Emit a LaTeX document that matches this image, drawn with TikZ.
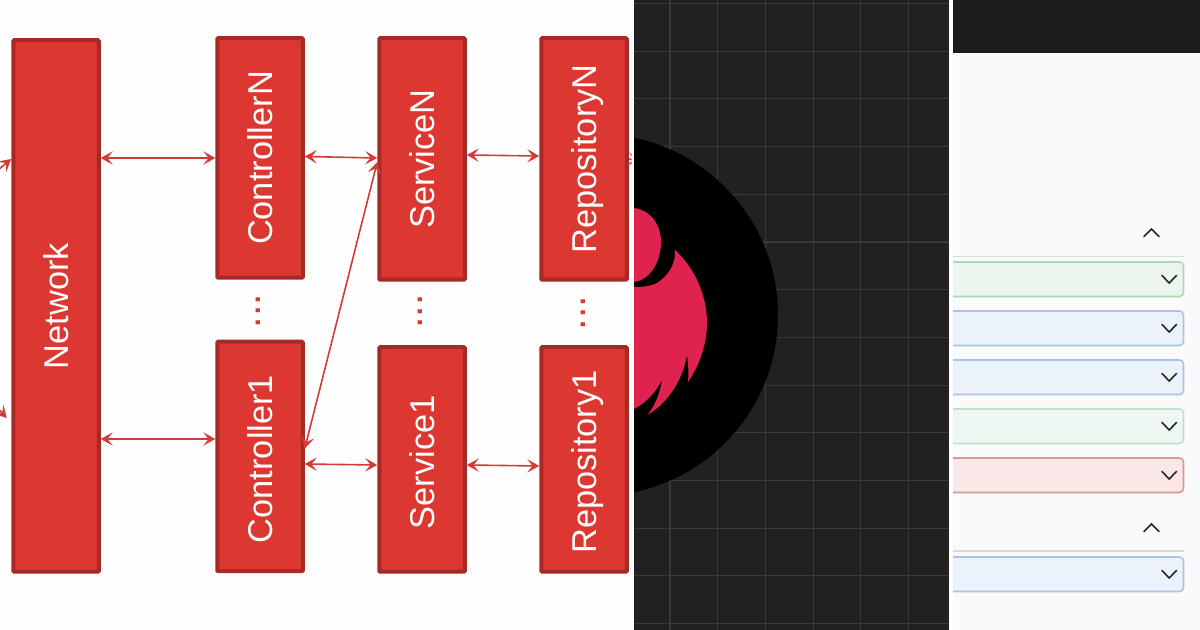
\documentclass[tikz,border=0pt]{standalone}
\usepackage{fontspec}
\setmainfont{Liberation Sans}
\usetikzlibrary{arrows.meta}
\definecolor{boxred}{HTML}{DC3731}
\definecolor{boxedge}{HTML}{A52A26}
\definecolor{linkred}{HTML}{D43B36}
\definecolor{darkbg}{HTML}{212121}
\definecolor{gridc}{HTML}{393939}
\definecolor{topbar}{HTML}{1C1C1C}
\definecolor{crimson}{HTML}{E0234E}
\definecolor{panelbg}{HTML}{FAFAFA}
\definecolor{greenbg}{HTML}{EBF5EC}
\definecolor{greenln}{HTML}{B0D4B6}
\definecolor{mintbg}{HTML}{EEF7F2}
\definecolor{mintln}{HTML}{BFE0CC}
\definecolor{bluebg}{HTML}{ECF2FB}
\definecolor{blueln}{HTML}{ABC3E6}
\definecolor{redbg}{HTML}{F9E8E7}
\definecolor{redln}{HTML}{DD9696}
\tikzset{
  x=0.75pt,y=-0.75pt,
  layerbox/.style={draw=boxedge,fill=boxred,line width=3pt,rounded corners=0.8pt,inner sep=0pt,text=white,
    minimum width=85.5*0.75pt,font=\fontsize{25.8pt}{26pt}\selectfont},
  link/.style={draw=linkred,line width=1.2pt,{Stealth[length=9pt,width=10pt,inset=4pt]}-{Stealth[length=9pt,width=10pt,inset=4pt]}},
  oneway/.style={draw=linkred,line width=1.2pt,-{Stealth[length=9pt,width=10pt,inset=4pt]}},
  dotsnode/.style={text=linkred,rotate=90,inner sep=0pt,font=\fontsize{31pt}{31pt}\selectfont},
  rowbox/.style={line width=1.2pt,rounded corners=3pt},
  chev/.style={draw=black!85,line width=1.2pt,line cap=round},
  rule/.style={draw=black!15,line width=0.9pt}
}
\newcommand{\dnt}[2]{\rotatebox{90}{#1\hspace*{#2}}}
\newcommand{\nodp}[1]{\raisebox{0pt}[\height][0pt]{#1}}
\begin{document}
\begin{tikzpicture}
\useasboundingbox (0,0) rectangle (1200,630);
% panels
\fill[white!99.5!black] (0,0) rectangle (634,630);
% boxes
\node[layerbox,minimum height=531.5*0.75pt] (net) at (56,306) {\rotatebox{90}{Network}};
\node[layerbox,minimum height=239.5*0.75pt] (ctrlN) at (260,158) {\rotatebox{90}{ControllerN}};
\node[layerbox,minimum height=229.5*0.75pt] (ctrl1) at (260,456.5) {\dnt{Controller1}{3.75pt}};
\node[layerbox,minimum height=241.5*0.75pt] (svcN) at (422,159) {\rotatebox{90}{ServiceN}};
\node[layerbox,minimum height=224.5*0.75pt] (svc1) at (422,459.5) {\dnt{Service1}{4pt}};
\node[layerbox,minimum height=241.5*0.75pt] (repoN) at (584,159) {\rotatebox{90}{\nodp{RepositoryN}}};
\node[layerbox,minimum height=224.5*0.75pt] (repo1) at (584,459.5) {\rotatebox{90}{\nodp{Repository1}\hspace*{3.75pt}}};
% dots
\node[dotsnode] (dotsC) at (258,311) {...};
\node[dotsnode] (dotsS) at (420,311.5) {...};
\node[dotsnode] (dotsR) at (583,313) {...};
% links
\draw[link] (net.east |- ctrlN.east) -- (ctrlN.west);
\path ([shift={(0,-17.5)}]ctrl1.west) coordinate (na);
\draw[link] (net.east |- na) -- (na);
\draw[link] ([shift={(0,-1.5)}]ctrlN.east) -- ([shift={(0,-1)}]svcN.west);
\draw[link] ([shift={(0,7.5)}]ctrl1.east) -- ([shift={(0,5.5)}]svc1.west);
\draw[link] ([shift={(0,-4)}]svcN.east) -- ([shift={(0,-3)}]repoN.west);
\draw[link] ([shift={(0,5.5)}]svc1.east) -- ([shift={(0,6.5)}]repo1.west);
\draw[link] ([shift={(0,-8)}]ctrl1.east) -- ([shift={(0,3)}]svcN.west);
% fragments
\coordinate (fragA) at (-8,175);
\coordinate (fragB) at (-10,400);
\coordinate (fragC) at (640,161);
\draw[oneway] (fragA) -- ([shift={(0,-147)}]net.west);
\draw[oneway] (fragB) -- ([shift={(-4.5,112)}]net.west);
\begin{scope}
\clip (620,140) rectangle (631.5,180);
\draw[oneway] (repoN.east) -- (fragC);
\end{scope}
% dark panel
\fill[darkbg] (634,0) rectangle (949,630);
\fill[white!99.5!black] (949,0) rectangle (953,630);
\fill[panelbg] (953,53) rectangle (1200,630);
\fill[topbar] (953,0) rectangle (1200,53);
% grid
\foreach \gx in {670,717.7,765.4,813.1,860.8,908.5} \draw[gridc,line width=0.8pt] (\gx,0) -- (\gx,630);
\foreach \gy in {3.5,51.2,98.9,146.6,194.3,242,289.7,337.4,385.1,432.8,480.5,528.2,575.9,623.6} \draw[gridc,line width=0.8pt] (634,\gy) -- (949,\gy);
% logo
\begin{scope}
\clip (634,0) rectangle (949,630);
\fill[black] (597,315) circle[radius=181];
\fill[crimson] (634,208) .. controls (650,210) and (661,224) .. (661,242) .. controls (661,262) and (650,280) .. (634,282) -- cycle;
\fill[crimson] (634,287) .. controls (644,287) and (651,286) .. (657,283)
  .. controls (668,276) and (676,264) .. (675,250)
  .. controls (695,268) and (707,296) .. (707,323)
  .. controls (707,345) and (699,366) .. (688,382)
  .. controls (689,372) and (688,364) .. (687,355)
  .. controls (684,375) and (671,401) .. (647.5,415)
  .. controls (654,407) and (660,394) .. (662,380)
  .. controls (656,392) and (646,403) .. (634,409) -- cycle;
\end{scope}
% right panel rows
\begin{scope}
\clip (953,53) rectangle (1200,630);
\foreach \ny/\fc/\lc in {262/greenbg/greenln,311/bluebg/blueln,360/bluebg/blueln,409/mintbg/mintln,458/redbg/redln,557/bluebg/blueln}
  \draw[rowbox,fill=\fc,draw=\lc] (930,\ny) rectangle (1183.5,\ny+34.5);
\end{scope}
\coordinate (ruleA) at (953,256.5);
\coordinate (ruleB) at (1183.5,256.5);
\coordinate (ruleC) at (953,551);
\coordinate (ruleD) at (1183.5,551);
\draw[rule] (ruleA) -- (ruleB);
\draw[rule] (ruleC) -- (ruleD);
\foreach \cy in {279.5,328.5,377.5,426.5,475.5,574.5}
  \draw[chev] (1162,\cy-4) -- (1169.2,\cy+3.5) -- (1176.5,\cy-4);
\foreach \cy in {233,528}
  \draw[chev] (1144,\cy+3.5) -- (1151.5,\cy-4) -- (1159,\cy+3.5);
\end{tikzpicture}
\end{document}
